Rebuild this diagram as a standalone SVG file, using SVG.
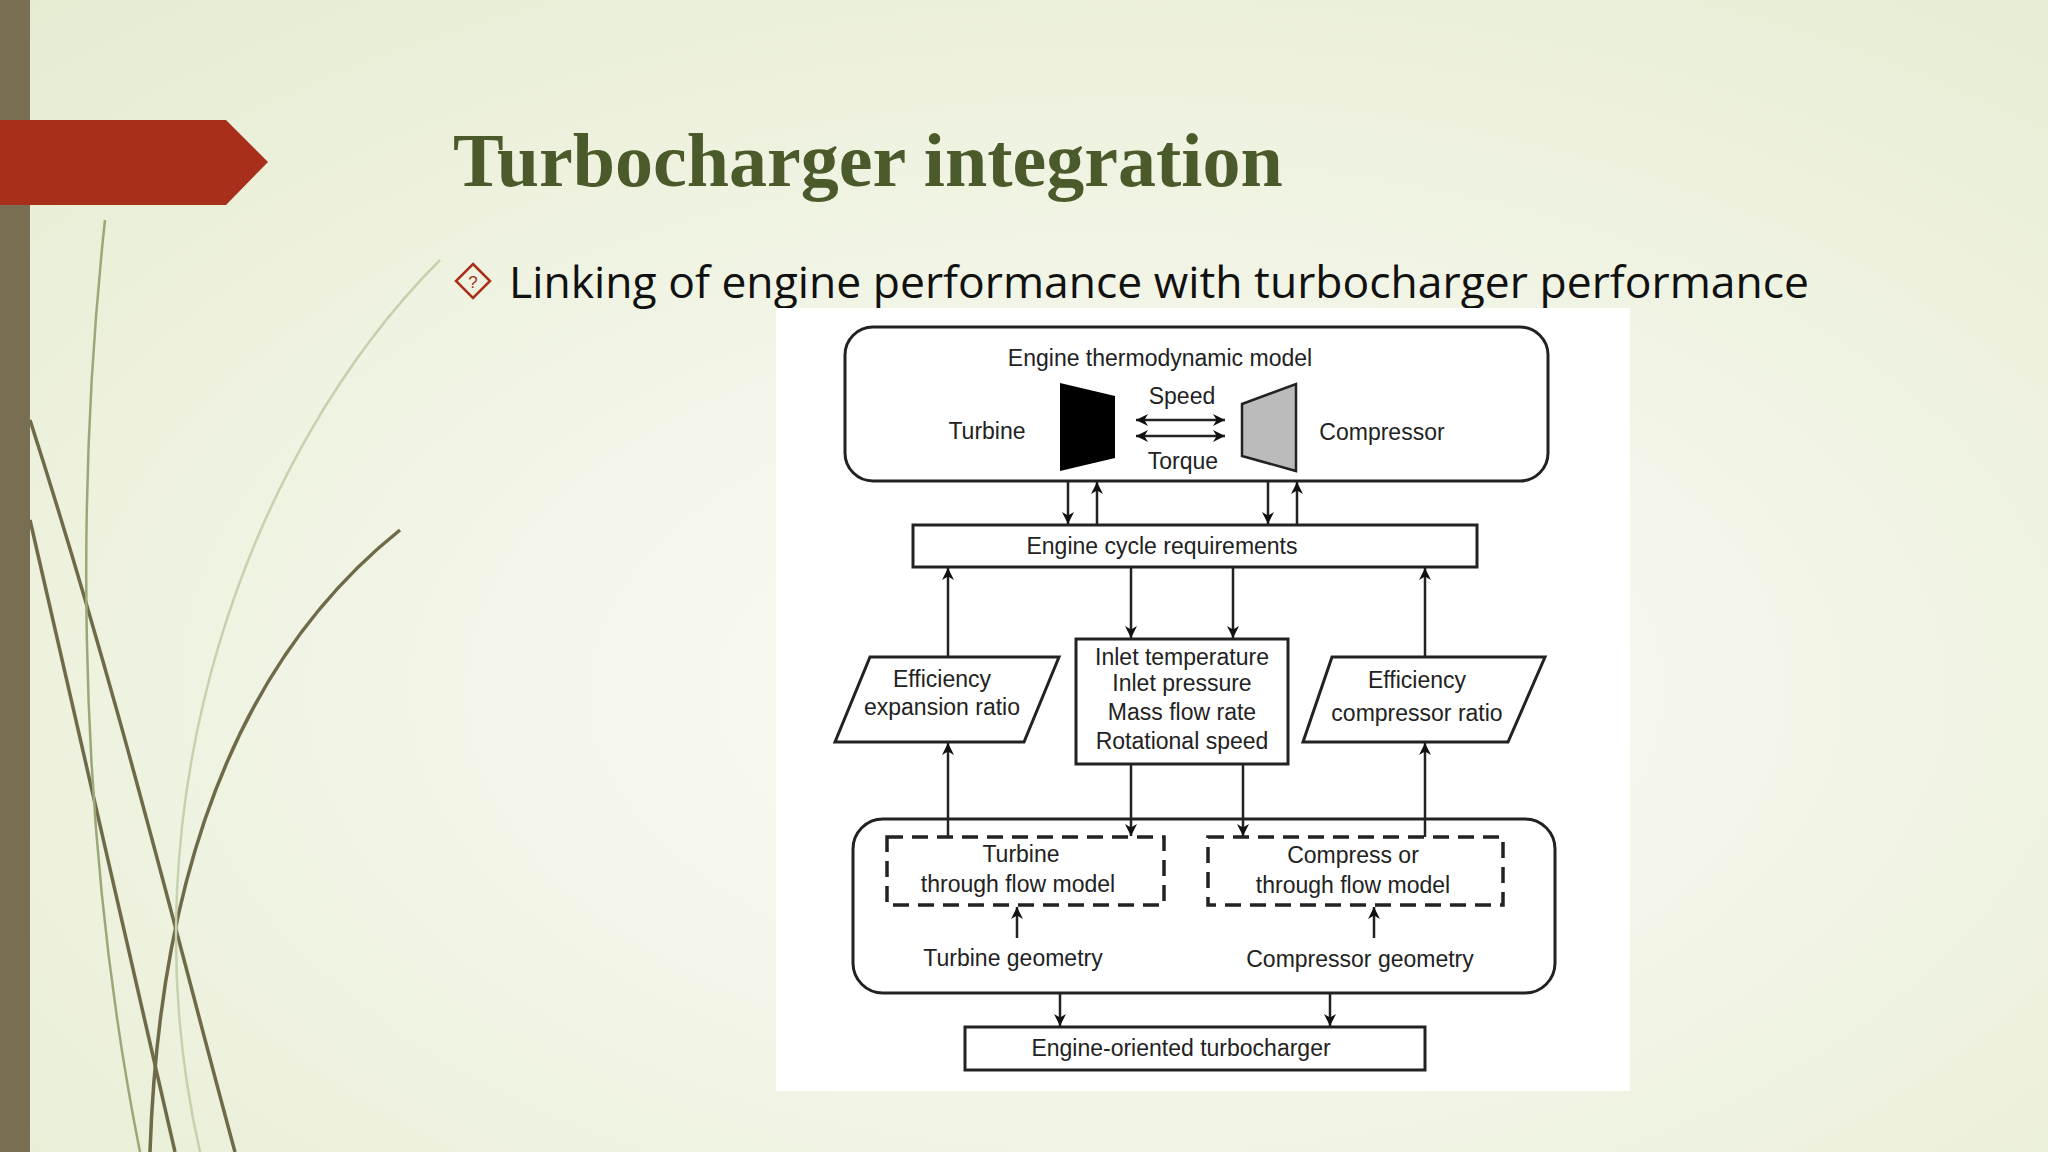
<svg xmlns="http://www.w3.org/2000/svg" width="2048" height="1152" viewBox="0 0 2048 1152">
<defs>
<radialGradient id="bg" cx="0.55" cy="0.6" r="0.8">
<stop offset="0" stop-color="#fbfcf6"/><stop offset="1" stop-color="#e6ecd2"/>
</radialGradient>
<marker id="ah" viewBox="0 0 10 10" refX="10" refY="5" markerWidth="12" markerHeight="12" orient="auto-start-reverse" markerUnits="userSpaceOnUse">
<path d="M0,0 L10,5 L0,10 L3,5 Z" fill="#111"/>
</marker>
<style>
.t{font-family:"Liberation Sans",Arial,sans-serif;font-size:23px;fill:#222;text-anchor:middle}
.b{fill:#fff;stroke:#222;stroke-width:3}
.d{fill:none;stroke:#222;stroke-width:3.5;stroke-dasharray:16 9}
.c{stroke:#222;stroke-width:2.5;fill:none;marker-end:url(#ah)}
.deco{fill:none;stroke:#9aa877;stroke-width:2.5}
.dk{stroke:#6f6a48;stroke-width:3.5}
</style>
</defs>
<rect width="2048" height="1152" fill="url(#bg)"/>
<g id="decor">
<path class="deco dk" d="M30,420 C120,700 180,950 235,1152"/>
<path class="deco dk" d="M30,520 C90,780 140,1000 175,1152"/>
<path class="deco" d="M105,220 C80,450 70,800 140,1152"/>
<path class="deco dk" d="M400,530 C250,650 160,850 150,1152"/>
<path class="deco" d="M440,260 C250,450 120,800 200,1152" style="stroke:#c6d1ae"/>
<rect x="0" y="0" width="30" height="1152" fill="#7a6e52"/>
<path d="M0,120 L226,120 L268,162 L226,205 L0,205 Z" fill="#a8301a"/>
</g>
<text x="453" y="186" font-family="Liberation Serif,serif" font-weight="bold" font-size="76" fill="#4a5a2a">Turbocharger integration</text>
<path d="M473,264 L490,281 L473,298 L456,281 Z" fill="none" stroke="#a8301a" stroke-width="2.5"/>
<text x="473" y="288" font-family="Liberation Sans,sans-serif" font-size="17" fill="#a8301a" text-anchor="middle">?</text>
<text x="509" y="298" font-family="Open Sans,Liberation Sans,sans-serif" font-size="43" fill="#111" textLength="1300" lengthAdjust="spacingAndGlyphs">Linking of engine performance with turbocharger performance</text>
<rect x="776" y="308" width="854" height="783" fill="#fff"/>
<g id="top">
<rect class="b" x="845" y="327" width="703" height="154" rx="28"/>
<text class="t" x="1160" y="366">Engine thermodynamic model</text>
<text class="t" x="987" y="439">Turbine</text>
<path d="M1060,383 L1115,396 L1115,458 L1060,471 Z" fill="#000"/>
<text class="t" x="1182" y="404" font-size="21">Speed</text>
<text class="t" x="1183" y="469" font-size="21">Torque</text>
<path d="M1242,404 L1296,384 L1296,471 L1242,456 Z" fill="#bbb" stroke="#222" stroke-width="2.5"/>
<text class="t" x="1382" y="440">Compressor</text>
</g>
<g id="ecr"><rect class="b" x="913" y="525" width="564" height="42"/><text class="t" x="1162" y="554">Engine cycle requirements</text></g>
<g id="inlet"><rect class="b" x="1076" y="639" width="212" height="125" stroke-width="2"/>
<text class="t" x="1182" y="665">Inlet temperature</text><text class="t" x="1182" y="691">Inlet pressure</text><text class="t" x="1182" y="720">Mass flow rate</text><text class="t" x="1182" y="749">Rotational speed</text></g>
<g id="effL"><path class="b" d="M870,657 L1059,657 L1024,742 L835,742 Z"/><text class="t" x="942" y="687">Efficiency</text><text class="t" x="942" y="715">expansion ratio</text></g>
<g id="effR"><path class="b" d="M1332,657 L1545,657 L1508,742 L1303,742 Z"/><text class="t" x="1417" y="688">Efficiency</text><text class="t" x="1417" y="721">compressor ratio</text></g>
<g id="bottom">
<rect class="b" x="853" y="819" width="702" height="174" rx="30"/>
<rect class="d" x="887" y="837" width="277" height="68"/>
<text class="t" x="1021" y="862">Turbine</text><text class="t" x="1018" y="892">through flow model</text>
<rect class="d" x="1208" y="837" width="295" height="68"/>
<text class="t" x="1353" y="863">Compress or</text><text class="t" x="1353" y="893">through flow model</text>
<text class="t" x="1013" y="966">Turbine geometry</text>
<text class="t" x="1360" y="967">Compressor geometry</text>
</g>
<g id="eot"><rect class="b" x="965" y="1027" width="460" height="43"/><text class="t" x="1181" y="1056">Engine-oriented turbocharger</text></g>
<g id="connectors">
<line class="c" x1="1136" y1="420" x2="1225" y2="420" marker-start="url(#ah)"/>
<line class="c" x1="1136" y1="436" x2="1225" y2="436" marker-start="url(#ah)"/>
<line class="c" x1="1068" y1="481" x2="1068" y2="524"/>
<line class="c" x1="1097" y1="524" x2="1097" y2="482"/>
<line class="c" x1="1268" y1="481" x2="1268" y2="524"/>
<line class="c" x1="1297" y1="524" x2="1297" y2="482"/>
<line class="c" x1="948" y1="657" x2="948" y2="568"/>
<line class="c" x1="1425" y1="657" x2="1425" y2="568"/>
<line class="c" x1="1131" y1="567" x2="1131" y2="638"/>
<line class="c" x1="1233" y1="567" x2="1233" y2="638"/>
<line class="c" x1="948" y1="837" x2="948" y2="743"/>
<line class="c" x1="1425" y1="837" x2="1425" y2="743"/>
<line class="c" x1="1131" y1="764" x2="1131" y2="836"/>
<line class="c" x1="1243" y1="764" x2="1243" y2="836"/>
<line class="c" x1="1017" y1="938" x2="1017" y2="907"/>
<line class="c" x1="1374" y1="938" x2="1374" y2="907"/>
<line class="c" x1="1060" y1="993" x2="1060" y2="1026"/>
<line class="c" x1="1330" y1="993" x2="1330" y2="1026"/>
</g>
</svg>
